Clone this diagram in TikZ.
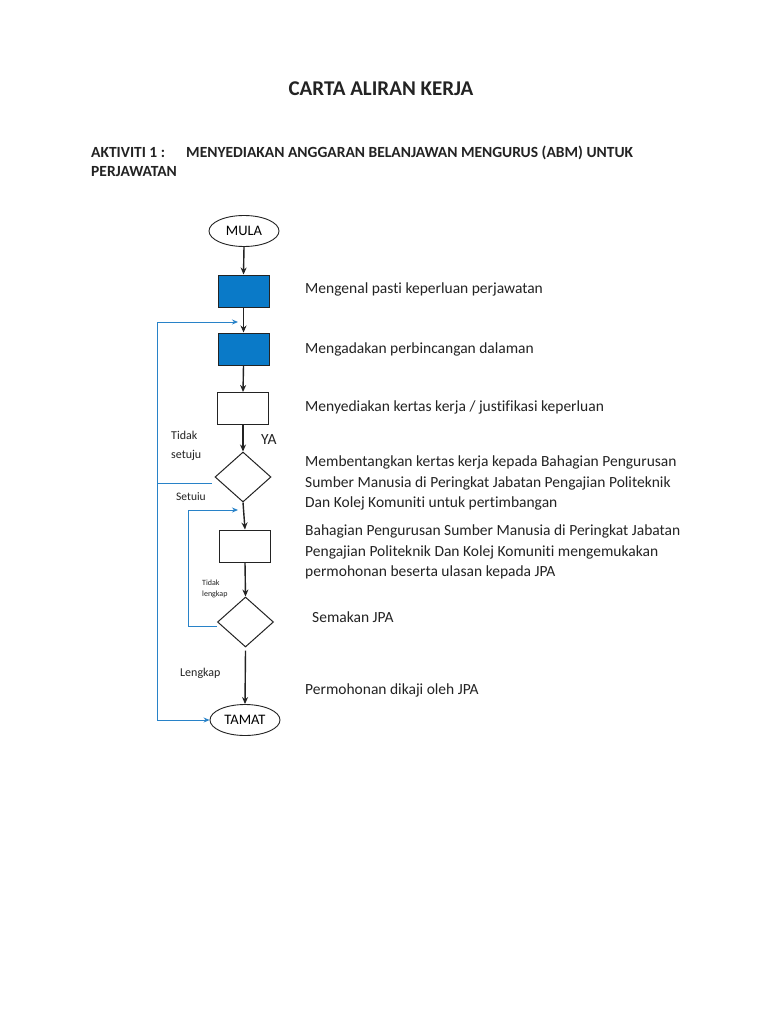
\documentclass[tikz,border=0pt]{standalone}
\usepackage{fontspec}
\setmainfont{Carlito}[Ligatures=NoCommon]
\usetikzlibrary{shapes.geometric,arrows.meta,calc}
\definecolor{boxblue}{RGB}{10,122,200}
\definecolor{loopblue}{RGB}{40,130,200}
\definecolor{ink}{RGB}{35,35,35}
\tikzset{
  procbox/.style={draw=ink, line width=1pt, minimum width=51pt, minimum height=32pt, inner sep=0pt},
  bluebox/.style={procbox, fill=boxblue},
  decide/.style={draw=ink, line width=1pt, diamond, minimum width=56pt, minimum height=50pt, inner sep=0pt},
  terminal/.style={draw=ink, line width=0.9pt, ellipse, minimum width=70pt, minimum height=31pt, inner sep=0pt, font=\fontsize{14.5}{16}\selectfont},
  flow/.style={draw=ink, line width=1.4pt, -{Stealth[length=7pt,width=6pt]}},
  loop/.style={draw=loopblue, line width=0.9pt, -{Stealth[length=6pt,width=5pt]}},
  loopline/.style={draw=loopblue, line width=0.9pt},
  desc/.style={anchor=west, inner sep=0pt, text=ink, font=\fontsize{15.5}{20.3}\selectfont, align=left},
  small/.style={anchor=west, inner sep=0pt, text=ink, font=\fontsize{12}{19}\selectfont, align=left},
  tiny/.style={anchor=west, inner sep=0pt, text=ink, font=\fontsize{8}{11}\selectfont, align=left},
  header/.style={anchor=west, inner sep=0pt, text=ink, font=\fontsize{15.5}{18}\selectfont\bfseries},
}
\begin{document}
\begin{tikzpicture}[x=1pt,y=-1pt]
\useasboundingbox (0,0) rectangle (768,1024);
\fill[white] (0,0) rectangle (768,1024);

\node[anchor=center, text=ink, font=\fontsize{21}{24}\selectfont\bfseries] (title) at (381,89) {CARTA ALIRAN KERJA};
\node[header] (akt) at (91,153) {AKTIVITI 1 :};
\node[header] (aktt) at (186,153) {MENYEDIAKAN ANGGARAN BELANJAWAN MENGURUS (ABM) UNTUK};
\node[header] (aktt2) at (91,172) {PERJAWATAN};

% shapes
\node[terminal] (mula) at (244,231) {MULA};
\node[bluebox] (b1) at (243.5,291) {};
\node[bluebox] (b2) at (243.5,349) {};
\node[procbox] (b3) at (243,408.5) {};
\node[decide] (d1) at (243,477) {};
\node[procbox] (b4) at (245,546) {};
\node[decide] (d2) at (245.5,622) {};
\node[terminal] (tamat) at (245,720) {TAMAT};

% main flow
\draw[flow] (mula.south) -- (b1.north);
\draw[flow] (b1.south) -- (b2.north);
\draw[flow] (b2.south) -- (b3.north);
\draw[flow] (b3.south) -- (d1.north);
\draw[flow] (d1.south) -- (b4.north);
\draw[flow] (b4.south) -- (d2.north);
\draw[flow] ([yshift=-3pt]d2.south) -- (tamat.north);

% feedback loops
\coordinate (j1) at (238,322);
\coordinate (j2) at (238,510);
\coordinate (c1) at (157,483);
\coordinate (c2) at (188,626);
\draw[loopline] ([xshift=-3pt,yshift=-6pt]d1.west) -- (c1);
\draw[loop] (c1) |- (j1);
\draw[loop] (c1) |- (tamat.west);
\draw[loopline] ([yshift=-4pt]d2.west) -- (c2);
\draw[loop] (c2) |- (j2);

% branch labels
\node[small] (tidak1) at (171,446) {Tidak\\setuju};
\node[anchor=west, inner sep=0pt, text=ink, font=\fontsize{15.5}{18}\selectfont] (ya) at (261,440) {YA};
\node[anchor=west, inner sep=0pt, text=ink, font=\fontsize{11.5}{14}\selectfont] (setuju) at (176,497) {Setuiu};
\node[tiny] (tidak2) at (202,589) {Tidak\\lengkap};
\node[anchor=west, inner sep=0pt, text=ink, font=\fontsize{12}{14}\selectfont] (lengkap) at (180,673) {Lengkap};

% descriptions
\node[desc] (t1) at (305,289) {Mengenal pasti keperluan perjawatan};
\node[desc] (t2) at (305,349) {Mengadakan perbincangan dalaman};
\node[desc] (t3) at (305,407) {Menyediakan kertas kerja / justifikasi keperluan};
\node[desc] (t4) at (305,483) {Membentangkan kertas kerja kepada Bahagian Pengurusan\\Sumber Manusia di Peringkat Jabatan Pengajian Politeknik\\Dan Kolej Komuniti untuk pertimbangan};
\node[desc] (t5) at (305,552) {Bahagian Pengurusan Sumber Manusia di Peringkat Jabatan\\Pengajian Politeknik Dan Kolej Komuniti mengemukakan\\permohonan beserta ulasan kepada JPA};
\node[desc] (t6) at (312,617) {Semakan JPA};
\node[desc] (t7) at (305,690) {Permohonan dikaji oleh JPA};
\end{tikzpicture}
\end{document}
